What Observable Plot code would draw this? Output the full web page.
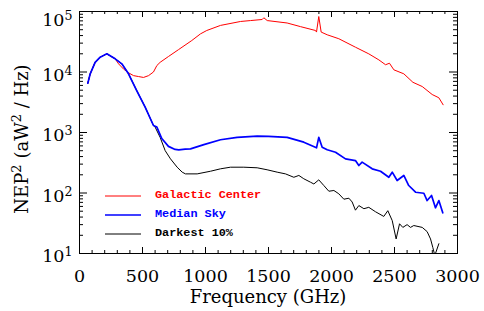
<!DOCTYPE html>
<html><head><meta charset="utf-8">
<script src="https://cdn.jsdelivr.net/npm/d3@7"></script>
<script src="https://cdn.jsdelivr.net/npm/@observablehq/plot@0.6"></script>
<style>body{margin:0;background:#fff;}</style>
</head><body><div id="chart"></div>
<script>
const seriesNames = ["Galactic Center", "Median Sky", "Darkest 10%"];
const seriesColors = ["#ff0000", "#0000ff", "#000000"];
const seriesWidths = [1, 1.7, 1];
const drawOrder = [2, 0, 1];

const galacticFreq = [66, 85, 124, 164, 217, 283, 310, 349, 389, 429, 468, 508, 548, 587, 614, 640, 706, 786, 891, 960, 1010, 1119, 1278, 1357, 1450, 1463, 1490, 1648, 1754, 1873, 1881, 1899, 1918, 1966, 2058, 2190, 2296, 2376, 2429, 2460, 2495, 2574, 2646, 2720, 2799, 2852, 2886];
const galacticNEP = [6531, 9333, 14454, 17579, 19953, 16520, 13646, 11220, 9705, 8710, 8414, 8128, 8710, 10000, 12794, 14454, 18030, 23442, 33113, 42658, 48529, 58884, 68391, 70795, 73790, 78705, 70795, 64565, 56234, 48529, 45709, 82604, 45709, 41210, 35481, 25704, 19953, 15849, 13183, 13964, 10864, 9333, 6761, 5754, 4246, 3750, 2871];

const medianFreq = [66, 85, 124, 164, 217, 283, 336, 389, 455, 521, 587, 614, 653, 706, 759, 788, 839, 881, 987, 1119, 1251, 1410, 1500, 1648, 1780, 1881, 1899, 1926, 1966, 2032, 2111, 2190, 2217, 2243, 2323, 2389, 2455, 2482, 2521, 2574, 2613, 2667, 2733, 2759, 2794, 2825, 2852, 2883];
const medianNEP = [6531, 9333, 14454, 17579, 19953, 16520, 13646, 9333, 4898, 2630, 1306, 1230, 794, 590, 525, 518, 530, 537, 631, 759, 832, 871, 865, 832, 692, 558, 832, 571, 518, 472, 367, 344, 285, 324, 251, 229, 182, 221, 161, 195, 133, 103, 99, 75, 91, 57, 75, 47];

const darkFreq = [66, 85, 124, 164, 217, 283, 336, 389, 455, 521, 587, 600, 640, 680, 722, 775, 815, 841, 934, 1040, 1119, 1198, 1304, 1410, 1489, 1569, 1635, 1701, 1741, 1780, 1833, 1860, 1899, 1939, 1979, 2019, 2058, 2098, 2138, 2164, 2190, 2217, 2257, 2296, 2349, 2415, 2447, 2482, 2513, 2540, 2566, 2600, 2627, 2653, 2720, 2759, 2786, 2804, 2820, 2852];
const darkNEP = [6531, 9333, 14454, 17579, 19953, 16520, 13646, 9333, 4898, 2630, 1306, 1230, 832, 501, 367, 267, 221, 207, 207, 229, 251, 267, 267, 261, 242, 221, 207, 182, 195, 172, 151, 141, 165, 133, 107, 110, 97, 79, 82, 71, 52, 62, 55, 58, 49, 41, 51, 35, 17.4, 31, 27, 30, 27, 29, 27, 23, 17.4, 12.6, 9.3, 14.5];

const xTicks = [0, 500, 1000, 1500, 2000, 2500, 3000];
const xMinorTicks = d3.range(0, 3001, 100);
const yTicks = [1e1, 1e2, 1e3, 1e4, 1e5];
const yMinorTicks = [1, 2, 3, 4].flatMap(e => [2,3,4,5,6,7,8,9].map(m => m * 10 ** e));
const xLabel = "Frequency (GHz)";

const toRows = (fs, vs, name) => fs.map((f, i) => ({freq: f, nep: vs[i], series: name}));
const seriesRows = [
  toRows(galacticFreq, galacticNEP, seriesNames[0]),
  toRows(medianFreq, medianNEP, seriesNames[1]),
  toRows(darkFreq, darkNEP, seriesNames[2])
];

const W = 484, H = 311;
const mL = 79, mR = 27, mT = 11, mB = 58;
const iw = W - mL - mR, ih = H - mT - mB;
const sup = {1: "¹", 2: "²", 3: "³", 4: "⁴", 5: "⁵"};
const serif = "DejaVu Serif";

const lineMarks = drawOrder.map(i =>
  Plot.line(seriesRows[i], {
    x: "freq", y: "nep", stroke: seriesColors[i], strokeWidth: seriesWidths[i], clip: true
  })
);

const chart = Plot.plot({
  width: W, height: H,
  marginLeft: mL, marginRight: mR, marginTop: mT, marginBottom: mB,
  style: {fontFamily: serif, background: "#fff", color: "#000"},
  x: {domain: [0, 3000]},
  y: {type: "log", domain: [10, 1e5]},
  marks: [
    ...lineMarks,
    Plot.frame({stroke: "#000", strokeWidth: 1}),
    Plot.tickX(xMinorTicks, {x: d => d, insetTop: ih - 3, stroke: "#000"}),
    Plot.tickX(xTicks, {x: d => d, insetTop: ih - 6, stroke: "#000"}),
    Plot.tickX(xMinorTicks, {x: d => d, insetBottom: ih - 3, stroke: "#000"}),
    Plot.tickX(xTicks, {x: d => d, insetBottom: ih - 6, stroke: "#000"}),
    Plot.tickY(yMinorTicks, {y: d => d, insetRight: iw - 4, stroke: "#000"}),
    Plot.tickY(yTicks, {y: d => d, insetRight: iw - 8, stroke: "#000"}),
    Plot.tickY(yMinorTicks, {y: d => d, insetLeft: iw - 4, stroke: "#000"}),
    Plot.tickY(yTicks, {y: d => d, insetLeft: iw - 8, stroke: "#000"}),
    Plot.axisX(xTicks, {tickSize: 0, tickPadding: 16, label: null, fontSize: 17.5, fontFamily: serif,
      tickFormat: d => String(d)}),
    Plot.axisY(yTicks.slice(0, 4), {tickSize: 0, tickPadding: 7, label: null, fontSize: 17.5, fontFamily: serif, dy: 3,
      tickFormat: d => "10" + sup[Math.round(Math.log10(d))]}),
    Plot.axisY(yTicks.slice(4), {tickSize: 0, tickPadding: 7, label: null, fontSize: 17.5, fontFamily: serif, dy: 9,
      tickFormat: d => "10" + sup[Math.round(Math.log10(d))]})
  ]
});
document.getElementById("chart").appendChild(chart);

const svg = d3.select(chart);
svg.selectAll("text").each(function() {
  const t = this.textContent;
  const m = /^10([¹²³⁴⁵])$/.exec(t);
  if (m) {
    const inv = {"¹": 1, "²": 2, "³": 3, "⁴": 4, "⁵": 5}[m[1]];
    const el = d3.select(this);
    el.text(null);
    el.append("tspan").text("10");
    el.append("tspan").attr("dy", "-0.45em").attr("font-size", "0.72em").text(inv);
  }
});

svg.append("text").attr("x", mL + iw / 2).attr("y", 303)
  .attr("text-anchor", "middle").attr("font-family", serif).attr("font-size", 18).attr("fill", "#000")
  .text(xLabel);
const yt = svg.append("text").attr("transform", "translate(28,139) rotate(-90)")
  .attr("text-anchor", "middle").attr("font-family", serif).attr("font-size", 18).attr("fill", "#000");
yt.append("tspan").text("NEP");
yt.append("tspan").attr("dy", -7).attr("font-size", 13).text("2");
yt.append("tspan").attr("dy", 7).text(" (aW");
yt.append("tspan").attr("dy", -7).attr("font-size", 13).text("2");
yt.append("tspan").attr("dy", 7).text(" / Hz)");

const legendY = [196, 215, 234];
seriesNames.forEach((name, i) => {
  svg.append("line").attr("x1", 105).attr("x2", 141).attr("y1", legendY[i]).attr("y2", legendY[i])
    .attr("stroke", seriesColors[i]).attr("stroke-width", seriesWidths[i]);
  svg.append("text").attr("x", 155).attr("y", legendY[i] + 2).attr("text-anchor", "start")
    .attr("font-family", "Liberation Mono").attr("font-weight", "bold").attr("font-size", 11.8)
    .attr("fill", seriesColors[i]).text(name);
});
</script>
</body></html>
